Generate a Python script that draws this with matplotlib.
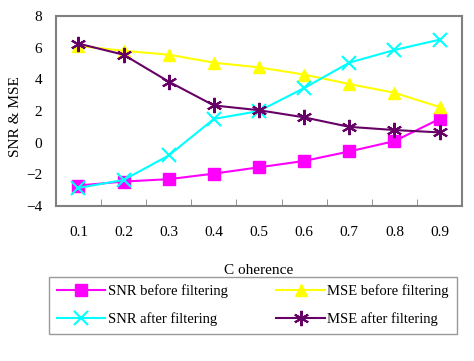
import numpy as np
import matplotlib.pyplot as plt

coherence = ["0.1", "0.2", "0.3", "0.4", "0.5", "0.6", "0.7", "0.8", "0.9"]
snr_before = [-2.7, -2.45, -2.3, -1.95, -1.55, -1.15, -0.55, 0.1, 1.5]
mse_before = [6.1, 5.8, 5.55, 5.05, 4.75, 4.3, 3.7, 3.15, 2.25]
snr_after = [-2.85, -2.35, -0.8, 1.5, 2.0, 3.45, 5.05, 5.85, 6.5]
mse_after = [6.25, 5.55, 3.85, 2.35, 2.05, 1.6, 1.0, 0.8, 0.65]

plt.rcParams['font.family'] = ['Liberation Serif', 'DejaVu Serif']

fig = plt.figure(figsize=(4.74, 3.61), dpi=100)
ax = fig.add_axes([0.118, 0.429, 0.857, 0.527])

x = np.arange(len(coherence))
l1, = ax.plot(x, snr_before, color='#ff00ff', marker='s', markersize=9, lw=1.5, label='SNR before filtering')
l2, = ax.plot(x, mse_before, color='#ffff00', marker='^', markersize=9, lw=1.5, label='MSE before filtering')
l3, = ax.plot(x, snr_after, color='#00ffff', marker='x', markersize=10, mew=1.5, lw=1.5, label='SNR after filtering')
l4, = ax.plot(x, mse_after, color='#660066', marker=(6, 2, 0), markersize=11, mew=1.5, lw=1.5, label='MSE after filtering')

ax.set_xlim(-0.5, len(coherence) - 0.5)
ax.set_ylim(-4, 8)
ax.set_yticks(range(-4, 9, 2))
ax.set_xticks(x)
ax.set_xticklabels(coherence)
ax.set_xticks(np.arange(0.5, len(coherence) - 1, 1), minor=True)
ax.tick_params(axis='x', which='major', length=0, pad=14, labelsize=11)
ax.tick_params(axis='x', which='minor', direction='in', length=5, color='#808080')
ax.tick_params(axis='y', length=0, pad=10, labelsize=11)
for s in ax.spines.values():
    s.set_color('#808080')
    s.set_linewidth(1.5)

ax.set_xlabel('C oherence', fontsize=11, labelpad=18)
ax.set_ylabel('SNR & MSE', fontsize=11)
ax.yaxis.set_label_coords(-0.084, 0.47)

leg = fig.legend(handles=[l1, l3, l2, l4], ncol=2, loc='lower left',
                 bbox_to_anchor=(49 / 474, 1 - 334 / 361, 408 / 474, 58 / 361),
                 mode='expand', fontsize=10.5, fancybox=False, edgecolor='#808080',
                 handlelength=3.3, columnspacing=2.0, borderaxespad=0, handletextpad=0.2,
                 borderpad=0.55, labelspacing=0.95)
leg.get_frame().set_linewidth(1.0)

fig.savefig('out.png', dpi=100)
